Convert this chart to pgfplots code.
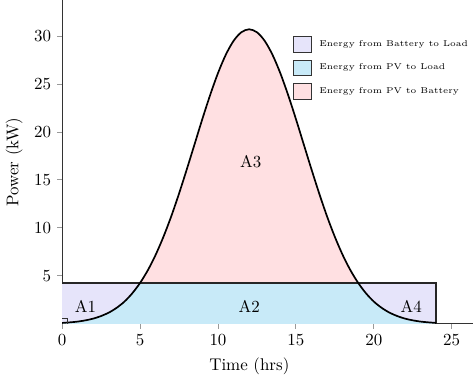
\documentclass[border=0pt]{standalone}
\usepackage{pgfplots}
\pgfplotsset{compat=1.18}
\definecolor{lav}{HTML}{E6E4FA}
\definecolor{pvblue}{HTML}{C8EAF8}
\definecolor{pvpink}{HTML}{FFE0E2}
\begin{document}
\begin{tikzpicture}
\begin{axis}[
  scale only axis,
  width=243pt, height=191pt,
  xmin=0, xmax=26.4, ymin=0, ymax=33.7,
  axis lines=left,
  axis line style={-, draw=black!80, line width=0.6pt},
  tick align=outside,
  tick style={black!40, line width=0.5pt},
  major tick length=3pt,
  xtick={0,5,10,15,20,25},
  ytick={5,10,15,20,25,30},
  xlabel={Time (hrs)},
  ylabel={Power (kW)},
  xlabel style={at={(ticklabel cs:0.455)}},
  legend style={at={(rel axis cs:0.557,0.895)}, anchor=north west, draw=none, fill=none,
    font=\tiny, row sep=4.2pt, inner sep=1pt},
  legend cell align=left,
  legend image code/.code={\draw[#1, draw=black!80, line width=0.5pt] (0cm,-0.16cm) rectangle (0.37cm,0.16cm); \path (0.46cm,0);},
]
% A1/A4 background (battery to load)
\addplot[fill=lav, draw=none] coordinates {(0,0) (24,0) (24,4.25) (0,4.25)} -- cycle;
\addlegendentry{Energy from Battery to Load}
% A2 (PV to load)
\addplot[fill=pvblue, draw=none] coordinates {
(0,0) (0,0.09) (0.5,0.15) (1,0.23) (1.5,0.36) (2,0.54) (2.5,0.81) (3,1.17) (3.5,1.67) (4,2.32) (4.5,3.18) (5,4.25)
(19,4.25) (19.5,3.18) (20,2.32) (20.5,1.67) (21,1.17) (21.5,0.81) (22,0.54) (22.5,0.36) (23,0.23) (23.5,0.15) (24,0.09) (24,0)} -- cycle;
\addlegendentry{Energy from PV to Load}
% A3 (PV to battery)
\addplot[fill=pvpink, draw=none] coordinates {
(5,4.25) (5.5,5.59) (6,7.19) (6.5,9.07) (7,11.20) (7.5,13.57) (8,16.11) (8.5,18.73) (9,21.36) (9.5,23.86) (10,26.13) (10.5,28.04) (11,29.49) (11.5,30.39) (12,30.70)
(12.5,30.39) (13,29.49) (13.5,28.04) (14,26.13) (14.5,23.86) (15,21.36) (15.5,18.73) (16,16.11) (16.5,13.57) (17,11.20) (17.5,9.07) (18,7.19) (18.5,5.59) (19,4.25)} -- cycle;
\addlegendentry{Energy from PV to Battery}
% battery line
\addplot[forget plot, draw=black!85, line width=1.1pt] coordinates {(0,4.25) (24,4.25) (24,0)};
% PV curve
\addplot[forget plot, black, line width=1pt, smooth] coordinates {
(0,0.09) (0.5,0.15) (1,0.23) (1.5,0.36) (2,0.54) (2.5,0.81) (3,1.17) (3.5,1.67) (4,2.32) (4.5,3.18) (5,4.26)
(5.5,5.59) (6,7.19) (6.5,9.07) (7,11.20) (7.5,13.57) (8,16.11) (8.5,18.73) (9,21.36) (9.5,23.86) (10,26.13) (10.5,28.04) (11,29.49) (11.5,30.39) (12,30.70)
(12.5,30.39) (13,29.49) (13.5,28.04) (14,26.13) (14.5,23.86) (15,21.36) (15.5,18.73) (16,16.11) (16.5,13.57) (17,11.20) (17.5,9.07) (18,7.19) (18.5,5.59) (19,4.26)
(19.5,3.18) (20,2.32) (20.5,1.67) (21,1.17) (21.5,0.81) (22,0.54) (22.5,0.36) (23,0.23) (23.5,0.15) (24,0.09)};
% small square at origin
\addplot[forget plot, draw=black!80, line width=0.4pt] coordinates {(0,0.55) (0.35,0.55) (0.35,0)};
\node at (axis cs:1.5,1.8) {A1};
\node at (axis cs:12,1.85) {A2};
\node at (axis cs:12.1,16.9) {A3};
\node at (axis cs:22.4,1.8) {A4};
\end{axis}
\end{tikzpicture}
\end{document}
